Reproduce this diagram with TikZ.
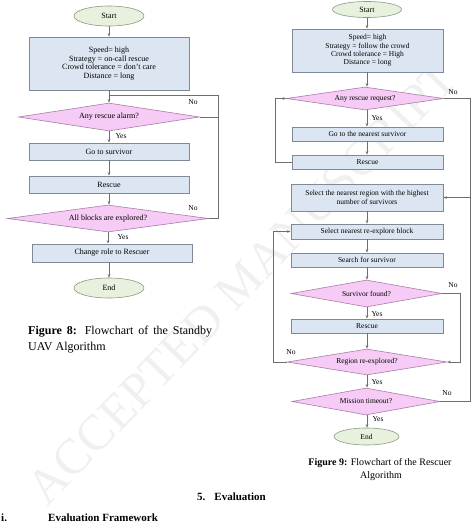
\documentclass[tikz,border=0pt]{standalone}
\usepackage{fontspec}
\setmainfont{Liberation Serif}
\usetikzlibrary{shapes.geometric,arrows.meta}
\definecolor{boxfill}{HTML}{DCE6F2}
\definecolor{boxdraw}{HTML}{7F8A96}
\definecolor{dfill}{HTML}{F6CCF6}
\definecolor{ddraw}{HTML}{A87EA8}
\definecolor{efill}{HTML}{E8F0DE}
\definecolor{edraw}{HTML}{8C9A84}
\definecolor{linec}{HTML}{6E6E6E}
\begin{document}
\begin{tikzpicture}[x=1pt,y=1pt,
 pbox/.style={draw=boxdraw, fill=boxfill, line width=0.8pt, rectangle, inner sep=0pt, align=center, font=\fontsize{8}{8.7}\selectfont},
 pboxr/.style={pbox, font=\fontsize{7.5}{8.2}\selectfont},
 dec/.style={diamond, draw=ddraw, fill=dfill, line width=0.6pt, inner sep=0pt, aspect=6, font=\fontsize{8}{9}\selectfont},
 term/.style={ellipse, draw=edraw, fill=efill, line width=0.6pt, inner sep=0pt, font=\fontsize{8}{9}\selectfont},
 arr/.style={draw=linec, line width=0.6pt, -{Stealth[length=3.5pt,width=2.6pt]}},
 ln/.style={draw=linec, line width=0.6pt},
 lab/.style={font=\fontsize{7.5}{8}\selectfont, inner sep=0pt}
]
\useasboundingbox (0,0) rectangle (474,-525);
% watermark
\node[rotate=46, text=black!6, font=\fontsize{50}{50}\selectfont, inner sep=0pt] (wm) at (242,-283) {ACCEPTED MANUSCRIPT};

% ---------- left chart ----------
\node[term, minimum width=70pt, minimum height=20pt] (sL) at (109,-16) {Start};
\node[pbox, minimum width=160pt, minimum height=53pt] (pL) at (109,-63.5) {Speed= high\\Strategy = on-call rescue\\Crowd tolerance = don’t care\\Distance = long};
\node[dec, minimum width=181pt, minimum height=28pt] (aL) at (109,-117) {Any rescue alarm?};
\node[pbox, minimum width=160pt, minimum height=17pt] (gL) at (109,-151.5) {Go to survivor};
\node[pbox, minimum width=160pt, minimum height=17pt] (rL) at (109,-184.5) {Rescue};
\node[dec, minimum width=201pt, minimum height=27pt] (bL) at (108,-218.5) {All blocks are explored?};
\node[pbox, minimum width=160pt, minimum height=18pt] (cL) at (112,-253) {Change role to Rescuer};
\node[term, minimum width=70pt, minimum height=20pt] (eL) at (109,-288) {End};

\coordinate (jL) at (109,-95);
\coordinate (xL) at (218,0);
\draw[arr] (sL.south) -- (sL.south |- pL.north);
\draw[arr] (pL.south) -- (aL.north);
\draw[arr] (aL.south) -- (aL.south |- gL.north);
\draw[arr] (gL.south) -- (gL.south |- rL.north);
\draw[arr] (rL.south) -- (rL.south |- bL.north);
\draw[arr] (bL.south) -- (bL.south |- cL.north);
\draw[arr] (cL.south -| eL.north) -- (eL.north);
\draw[ln] (bL.east) -- (bL.east -| xL) |- (jL);
\draw[ln] (aL.east) -- (aL.east -| xL);
\node[lab] (nL1) at (193,-102) {No};
\node[lab] (nL2) at (193,-208) {No};
\node[lab] (yL1) at (121,-136) {Yes};
\node[lab] (yL2) at (123,-237) {Yes};

\node[anchor=west, inner sep=0pt, font=\fontsize{12}{14}\selectfont] (cap8a) at (28,-332) {\makebox[184pt][s]{\textbf{Figure 8:} Flowchart of the Standby}};
\node[anchor=west, inner sep=0pt, font=\fontsize{12}{14}\selectfont] (cap8b) at (28,-348) {UAV Algorithm};

% ---------- right chart ----------
\node[term, minimum width=69pt, minimum height=16pt] (sR) at (367,-9.5) {Start};
\node[pboxr, minimum width=151pt, minimum height=43pt] (pR) at (367.5,-50.5) {Speed= high\\Strategy = follow the crowd\\Crowd tolerance = High\\Distance = long};
\node[dec, minimum width=157pt, minimum height=23pt, font=\fontsize{7.5}{8}\selectfont] (req) at (365,-98.5) {Any rescue request?};
\node[pboxr, minimum width=151pt, minimum height=14pt] (gR) at (367.5,-134) {Go to the nearest survivor};
\node[pboxr, minimum width=151pt, minimum height=14pt] (rR1) at (367.5,-162) {Rescue};
\node[pboxr, minimum width=152pt, minimum height=27pt] (reg) at (367,-197.5) {Select the nearest region with the highest\\number of survivors};
\node[pboxr, minimum width=152pt, minimum height=15pt] (rx) at (367,-231.5) {Select nearest re-explore block};
\node[pboxr, minimum width=152pt, minimum height=14pt] (se) at (367,-260) {Search for survivor};
\node[dec, minimum width=151pt, minimum height=27pt, font=\fontsize{7.5}{8}\selectfont] (fd) at (366.5,-293.5) {Survivor found?};
\node[pboxr, minimum width=152pt, minimum height=14pt] (rR2) at (367,-326) {Rescue};
\node[dec, minimum width=160pt, minimum height=26pt, font=\fontsize{7.5}{8}\selectfont] (rq) at (367,-362) {Region re-explored?};
\node[dec, minimum width=148pt, minimum height=27pt, font=\fontsize{7.5}{8}\selectfont] (tm) at (366,-401.5) {Mission timeout?};
\node[term, minimum width=65pt, minimum height=17pt, font=\fontsize{7.5}{8}\selectfont] (eR) at (366.5,-436.5) {End};

\draw[arr] (sR.south) -- (sR.south |- pR.north);
\draw[arr] (pR.south -| sR.south) -- (req.north -| sR.south);
\draw[arr] (req.south -| sR.south) -- (gR.north -| sR.south);
\draw[arr] (gR.south -| sR.south) -- (rR1.north -| sR.south);
\draw[arr] (reg.south -| sR.south) -- (rx.north -| sR.south);
\draw[arr] (rx.south -| sR.south) -- (se.north -| sR.south);
\draw[arr] (se.south -| sR.south) -- (fd.north -| sR.south);
\draw[arr] (fd.south -| sR.south) -- (rR2.north -| sR.south);
\draw[arr] (rR2.south -| sR.south) -- (rq.north -| sR.south);
\draw[arr] (rq.south -| sR.south) -- (tm.north -| sR.south);
\draw[arr] (tm.south -| sR.south) -- (eR.north -| sR.south);

\coordinate (xA) at (275,0);
\coordinate (xB) at (470,0);
\coordinate (xC) at (460,0);
\coordinate (xD) at (273,0);
\draw[arr] (rR1.west) -- (rR1.west -| xA) |- (req.west);
\draw[ln] (req.east) -- (req.east -| xB) -- (tm.east -| xB) -- (tm.east);
\draw[arr] (reg.east -| xB) -- (reg.east);
\draw[arr] (fd.east) -- (fd.east -| xC) |- (rq.east);
\draw[arr] (rq.west) -- (rq.west -| xD) |- (rx.west);

\node[lab] (nR1) at (453,-92) {No};
\node[lab] (yR1) at (377,-118) {Yes};
\node[lab] (nR2) at (453,-285) {No};
\node[lab] (yR2) at (377,-314) {Yes};
\node[lab] (nR3) at (291,-352) {No};
\node[lab] (yR3) at (377,-382) {Yes};
\node[lab] (nR4) at (447,-393) {No};
\node[lab] (yR4) at (378,-419) {Yes};

\node[inner sep=0pt, font=\fontsize{10}{12}\selectfont] (cap9a) at (380,-463) {\textbf{Figure 9:} Flowchart of the Rescuer};
\node[inner sep=0pt, font=\fontsize{10}{12}\selectfont] (cap9b) at (381,-476) {Algorithm};

% ---------- page text ----------
\node[anchor=west, inner sep=0pt, font=\bfseries\fontsize{11}{12}\selectfont] (sec) at (197,-497) {5.\hspace{9pt}Evaluation};
\node[anchor=west, inner sep=0pt, font=\bfseries\fontsize{11}{12}\selectfont] (subn) at (1,-518) {i.};
\node[anchor=west, inner sep=0pt, font=\bfseries\fontsize{11}{12}\selectfont] (sub) at (48,-518) {Evaluation Framework};
\end{tikzpicture}
\end{document}
